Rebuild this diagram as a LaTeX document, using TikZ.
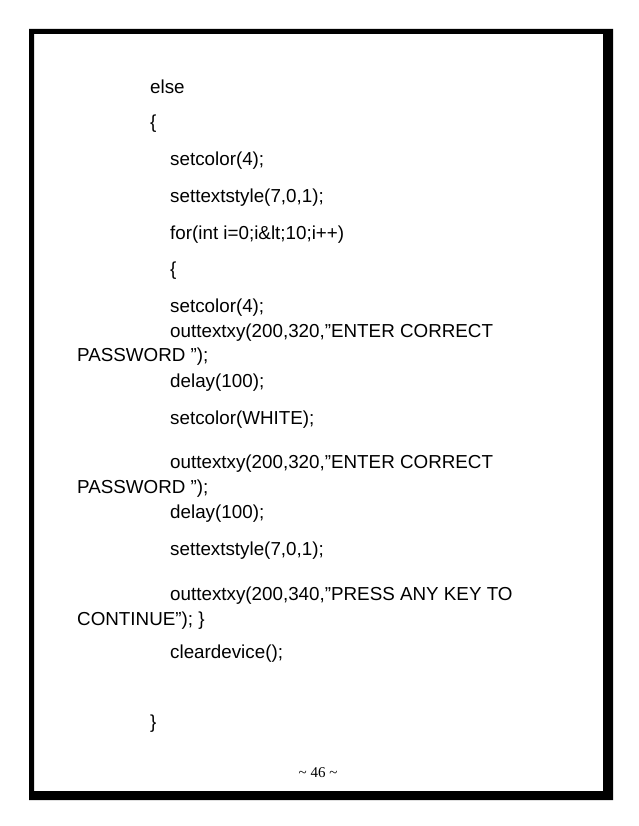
\documentclass[tikz,border=0pt]{standalone}
\usepackage{fontspec}
\setmainfont{Liberation Sans}
\newfontfamily\pgnum{Liberation Serif}
\newcommand\dq{\symbol{34}}
\begin{document}
\begin{tikzpicture}[x=1pt,y=-1pt,t/.style={anchor=west,inner sep=0pt,font=\fontsize{18.8}{22}\selectfont}]
\useasboundingbox (0,0) rectangle (638,826);
\fill[black,even odd rule] (29,29) rectangle (613,800) (34,34) rectangle (603,791);
\node[t] (l1) at (150,87) {else};
\node[t] (l2) at (150,124) {\{};
\node[t] (l3) at (170,161) {setcolor(4);};
\node[t] (l4) at (170,198) {settextstyle(7,0,1);};
\node[t] (l5) at (170,235) {for(int i=0;i\&lt;10;i++)};
\node[t] (l6) at (170,271) {\{};
\node[t] (l7) at (170,308) {setcolor(4);};
\node[t] (l8) at (170,333) {outtextxy(200,320,\dq ENTER CORRECT};
\node[t] (l9) at (77,357) {PASSWORD \dq);};
\node[t] (l10) at (170,383) {delay(100);};
\node[t] (l11) at (170,420) {setcolor(WHITE);};
\node[t] (l12) at (170,464) {outtextxy(200,320,\dq ENTER CORRECT};
\node[t] (l13) at (77,489) {PASSWORD \dq);};
\node[t] (l14) at (170,514) {delay(100);};
\node[t] (l15) at (170,551) {settextstyle(7,0,1);};
\node[t] (l16) at (170,596) {outtextxy(200,340,\dq PRESS ANY KEY TO};
\node[t] (l17) at (77,621) {CONTINUE\dq); \}};
\node[t] (l18) at (170,654) {cleardevice();};
\node[t] (l19) at (150,724) {\}};
\node[inner sep=0pt,font=\pgnum\fontsize{15}{17}\selectfont] (pg) at (318,773) {\char`\~{} 46 \char`\~};
\end{tikzpicture}
\end{document}
